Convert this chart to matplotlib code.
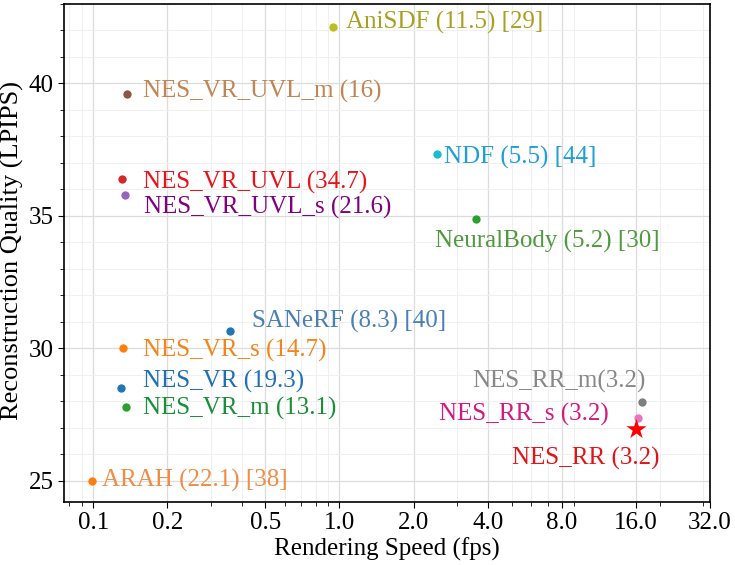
import matplotlib
matplotlib.use("Agg")
import matplotlib.pyplot as plt
from matplotlib.ticker import FixedLocator, FixedFormatter, LogLocator, NullFormatter, MultipleLocator

# data
methods = ["AniSDF (11.5) [29]", "NES_VR_UVL_m (16)", "NDF (5.5) [44]", "NES_VR_UVL (34.7)",
           "NES_VR_UVL_s (21.6)", "NeuralBody (5.2) [30]", "SANeRF (8.3) [40]", "NES_VR_s (14.7)",
           "NES_VR (19.3)", "NES_VR_m (13.1)", "ARAH (22.1) [38]", "NES_RR_m(3.2)",
           "NES_RR_s (3.2)", "NES_RR (3.2)"]
speed = [0.94, 0.137, 2.5, 0.131, 0.134, 3.6, 0.36, 0.132, 0.13, 0.136, 0.099, 16.9, 16.3, 16.0]
quality = [42.15, 39.62, 37.32, 36.38, 35.8, 34.87, 30.65, 30.0, 28.5, 27.78, 25.0, 27.96, 27.38, 26.95]

xticks = [0.1, 0.2, 0.5, 1.0, 2.0, 4.0, 8.0, 16.0, 32.0]
xtick_labels = ["0.1", "0.2", "0.5", "1.0", "2.0", "4.0", "8.0", "16.0", "32.0"]

# style
dot_colors = ["#bcbd22", "#8c564b", "#17becf", "#d62728", "#9467bd", "#2ca02c", "#1f77b4",
              "#ff7f0e", "#1f77b4", "#2ca02c", "#ff7f0e", "#7f7f7f", "#e377c2", "#ff0000"]
text_colors = ["#a9a020", "#c08552", "#1f9fd8", "#e8141a", "#800080", "#4f9a3c", "#4a7fb5",
               "#f5851a", "#1f6fb4", "#1a8f3a", "#f08c44", "#888888", "#d6197f", "#e0141a"]
label_dx = [13, 16, 7, 21, 19, -41, 22, 20, 22, 17, 10, 4, -29, -50]
label_dy = [4, 2, -3, -3, -13, -22, 10, -2, 7, -1, 0, 21, 3, -29]
label_ha = ["left"] * 11 + ["right", "right", "center"]

plt.rcParams['font.family'] = ['Liberation Serif', 'DejaVu Serif']
plt.rcParams['font.size'] = 18

fig = plt.figure(figsize=(7.35, 5.65), dpi=100)
ax = fig.add_axes([64 / 735, 1 - 502 / 565, 646 / 735, 498 / 565])

ax.set_xscale("log")

for i in range(len(methods)):
    if i == len(methods) - 1:
        ax.scatter(speed[i], quality[i], marker="*", s=230, color=dot_colors[i], zorder=3, linewidths=0)
    else:
        ax.scatter(speed[i], quality[i], s=36, color=dot_colors[i], zorder=3, linewidths=0)
    ax.annotate(methods[i], (speed[i], quality[i]), xytext=(label_dx[i], label_dy[i]),
                textcoords="offset pixels", ha=label_ha[i], va="center",
                color=text_colors[i], fontsize=18)

ax.set_xlim(0.076, 32)
ax.set_ylim(24.2, 43)

ax.xaxis.set_major_locator(FixedLocator(xticks))
ax.xaxis.set_major_formatter(FixedFormatter(xtick_labels))
ax.xaxis.set_minor_locator(LogLocator(base=10, subs=[2, 3, 4, 5, 6, 7, 8, 9]))
ax.xaxis.set_minor_formatter(NullFormatter())
ax.yaxis.set_major_locator(MultipleLocator(5))
ax.yaxis.set_minor_locator(MultipleLocator(1))

ax.grid(True, which="major", color="#dcdcdc", linewidth=0.9)
ax.grid(True, which="minor", color="#f0f0f0", linewidth=0.7)
ax.set_axisbelow(True)

ax.tick_params(which="major", direction="out", length=4, width=0.8, labelsize=18)
ax.tick_params(which="minor", direction="out", length=3, width=0.6)
for s in ax.spines.values():
    s.set_linewidth(1.2)

ax.set_xlabel("Rendering Speed (fps)", fontsize=18, labelpad=2)
ax.set_ylabel("Reconstruction Quality (LPIPS)", fontsize=19)
ax.yaxis.set_label_coords(-0.062, 0.505)

plt.savefig("out.png", dpi=100)
